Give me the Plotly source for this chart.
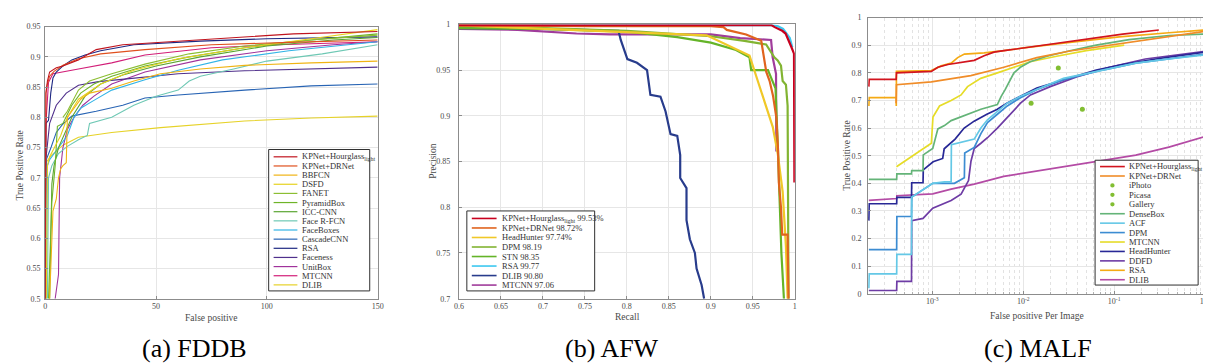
import plotly.graph_objects as go

W, H = 1211, 363
FONT = "Times New Roman, Liberation Serif, DejaVu Serif, serif"
TXT = "#4a4a4a"
GRID = "#e6e6e6"
FRAME = "#8c8c8c"

# ======================= (a) FDDB data =======================
fddb_kph_x = [0, 0.3, 1, 2, 5, 8, 15, 23, 35, 60, 90, 112, 150]
fddb_kph_y = [0.5, 0.84, 0.86, 0.875, 0.882, 0.885, 0.895, 0.912, 0.92, 0.926, 0.933, 0.938, 0.942]
fddb_drn_x = [0, 0.3, 1, 2, 4, 8, 15, 25, 45, 75, 110, 150]
fddb_drn_y = [0.5, 0.84, 0.855, 0.868, 0.876, 0.886, 0.897, 0.905, 0.912, 0.92, 0.924, 0.928]
fddb_bbfcn_x = [2, 3, 3.5, 5, 6, 7, 8, 9.5, 10, 12, 16, 20, 30, 40, 52, 70, 90, 120, 150]
fddb_bbfcn_y = [0.5, 0.62, 0.645, 0.665, 0.70, 0.715, 0.72, 0.725, 0.80, 0.81, 0.83, 0.84, 0.848, 0.86, 0.872, 0.88, 0.886, 0.89, 0.893]
fddb_dsfd_x = [0.5, 1, 2, 4, 7, 10, 15, 25, 40, 60, 90, 120, 150]
fddb_dsfd_y = [0.5, 0.72, 0.735, 0.75, 0.77, 0.80, 0.83, 0.855, 0.878, 0.897, 0.915, 0.93, 0.945]
fddb_fanet_x = [8, 10, 15, 20, 30, 45, 65, 90, 120, 150]
fddb_fanet_y = [0.80, 0.81, 0.845, 0.86, 0.872, 0.888, 0.905, 0.918, 0.928, 0.936]
fddb_pyramid_x = [1.5, 2.5, 3, 4.5, 5.5, 8, 12, 16, 22, 30, 45, 65, 90, 120, 150]
fddb_pyramid_y = [0.5, 0.62, 0.66, 0.72, 0.785, 0.79, 0.82, 0.84, 0.855, 0.868, 0.885, 0.90, 0.915, 0.928, 0.938]
fddb_icc_x = [2, 3, 4, 6, 9, 12, 18, 25, 35, 50, 70, 100, 130, 150]
fddb_icc_y = [0.5, 0.69, 0.72, 0.75, 0.775, 0.80, 0.835, 0.855, 0.87, 0.885, 0.90, 0.918, 0.928, 0.932]
fddb_rfcn_x = [1, 1.5, 3, 6, 10, 15, 19, 20, 30, 40, 50, 60, 65, 70, 85, 100, 125, 150]
fddb_rfcn_y = [0.5, 0.70, 0.72, 0.74, 0.752, 0.763, 0.77, 0.79, 0.80, 0.82, 0.835, 0.845, 0.86, 0.868, 0.88, 0.893, 0.905, 0.92]
fddb_faceboxes_x = [0.5, 1, 2, 5, 10, 13, 16, 22, 30, 45, 60, 80, 110, 150]
fddb_faceboxes_y = [0.5, 0.72, 0.73, 0.745, 0.77, 0.80, 0.815, 0.828, 0.845, 0.862, 0.878, 0.895, 0.91, 0.925]
fddb_cascade_x = [0, 0.5, 2.7, 5, 8, 12, 23, 35, 45, 60, 90, 120, 150]
fddb_cascade_y = [0.5, 0.73, 0.751, 0.775, 0.789, 0.802, 0.81, 0.82, 0.832, 0.837, 0.845, 0.852, 0.855]
fddb_rsa_x = [0, 0.3, 1.5, 2.5, 3.5, 5, 8, 12, 18, 25, 40, 70, 100, 150]
fddb_rsa_y = [0.5, 0.79, 0.795, 0.84, 0.865, 0.875, 0.885, 0.895, 0.903, 0.91, 0.92, 0.926, 0.93, 0.933]
fddb_faceness_x = [0, 2, 5, 9.5, 15, 24, 38, 60, 90, 150]
fddb_faceness_y = [0.72, 0.79, 0.82, 0.84, 0.853, 0.859, 0.864, 0.872, 0.877, 0.883]
fddb_unitbox_x = [4.5, 6, 6.5, 8, 10, 13, 17, 22, 30, 45, 70, 100, 130, 150]
fddb_unitbox_y = [0.5, 0.54, 0.70, 0.75, 0.78, 0.80, 0.82, 0.835, 0.855, 0.875, 0.895, 0.91, 0.92, 0.925]
fddb_mtcnn_x = [0, 0.5, 1.5, 3.5, 15, 30, 45, 75, 105, 150]
fddb_mtcnn_y = [0.72, 0.80, 0.858, 0.872, 0.88, 0.89, 0.903, 0.915, 0.92, 0.925]
fddb_dlib_x = [0, 0.3, 3, 8, 15, 30, 52, 90, 120, 150]
fddb_dlib_y = [0.5, 0.725, 0.738, 0.754, 0.767, 0.775, 0.783, 0.794, 0.799, 0.802]

fddb_names = ["KPNet+Hourglass<sub>light</sub>", "KPNet+DRNet", "BBFCN", "DSFD", "FANET",
              "PyramidBox", "ICC-CNN", "Face R-FCN", "FaceBoxes", "CascadeCNN", "RSA",
              "Faceness", "UnitBox", "MTCNN", "DLIB"]
fddb_series = [(fddb_kph_x, fddb_kph_y), (fddb_drn_x, fddb_drn_y), (fddb_bbfcn_x, fddb_bbfcn_y),
               (fddb_dsfd_x, fddb_dsfd_y), (fddb_fanet_x, fddb_fanet_y), (fddb_pyramid_x, fddb_pyramid_y),
               (fddb_icc_x, fddb_icc_y), (fddb_rfcn_x, fddb_rfcn_y), (fddb_faceboxes_x, fddb_faceboxes_y),
               (fddb_cascade_x, fddb_cascade_y), (fddb_rsa_x, fddb_rsa_y), (fddb_faceness_x, fddb_faceness_y),
               (fddb_unitbox_x, fddb_unitbox_y), (fddb_mtcnn_x, fddb_mtcnn_y), (fddb_dlib_x, fddb_dlib_y)]
fddb_colors = ["#c0141e", "#e0501e", "#f0b414", "#e6d21e", "#8cbe32", "#6eb428", "#5aa532",
               "#6ec8b4", "#32b4e6", "#2864b4", "#1e2882", "#50308c", "#a0329b", "#d21e78", "#e6d228"]
fddb_xticks = [0, 50, 100, 150]
fddb_yticks = [0.5, 0.55, 0.6, 0.65, 0.7, 0.75, 0.8, 0.85, 0.9, 0.95]
fddb_yticktext = ["0.5", "0.55", "0.6", "0.65", "0.7", "0.75", "0.8", "0.85", "0.9", "0.95"]

# ======================= (b) AFW data =======================
afw_kph_x = [0.6, 0.972, 0.976, 0.981, 0.985, 0.989, 0.993, 0.996, 0.999, 0.9995]
afw_kph_y = [0.9993, 0.9993, 0.997, 0.995, 0.993, 0.99, 0.982, 0.975, 0.968, 0.827]
afw_drn_x = [0.6, 0.75, 0.9, 0.915, 0.919, 0.942, 0.96, 0.964, 0.966, 0.97, 0.974, 0.978, 0.98, 0.981, 0.9835, 0.985, 0.9914, 0.9925]
afw_drn_y = [0.999, 0.998, 0.998, 0.997, 0.994, 0.989, 0.982, 0.962, 0.948, 0.938, 0.922, 0.898, 0.863, 0.827, 0.80, 0.77, 0.77, 0.70]
afw_hh_x = [0.6, 0.7, 0.8, 0.895, 0.946, 0.954, 0.9737, 0.9796, 0.9855, 0.9894, 0.9914]
afw_hh_y = [0.999, 0.995, 0.991, 0.988, 0.966, 0.943, 0.888, 0.859, 0.817, 0.757, 0.70]
afw_dpm_x = [0.6, 0.7, 0.8, 0.85, 0.9, 0.94, 0.9658, 0.9756, 0.9796, 0.9835, 0.9855, 0.9894, 0.9914, 0.9925]
afw_dpm_y = [0.998, 0.996, 0.993, 0.99, 0.987, 0.982, 0.978, 0.964, 0.9606, 0.955, 0.938, 0.934, 0.911, 0.70]
afw_stn_x = [0.6, 0.7, 0.8, 0.86, 0.9, 0.93, 0.946, 0.948, 0.968, 0.977, 0.98, 0.984, 0.987]
afw_stn_y = [0.996, 0.995, 0.992, 0.986, 0.98, 0.972, 0.964, 0.95, 0.95, 0.93, 0.86, 0.75, 0.70]
afw_rsa_x = [0.6, 0.972, 0.98, 0.986, 0.99, 0.994, 0.997]
afw_rsa_y = [0.9993, 0.9993, 0.998, 0.995, 0.99, 0.985, 0.975]
afw_dlib_x = [0.6, 0.7, 0.79, 0.7927, 0.8006, 0.812, 0.824, 0.828, 0.84, 0.846, 0.852, 0.86, 0.8635,
              0.8635, 0.871, 0.871, 0.875, 0.881, 0.883, 0.889, 0.892]
afw_dlib_y = [0.996, 0.995, 0.993, 0.983, 0.962, 0.958, 0.95, 0.923, 0.921, 0.905, 0.88, 0.878, 0.857,
              0.832, 0.821, 0.786, 0.765, 0.75, 0.733, 0.715, 0.70]
afw_mtcnn_x = [0.6, 0.67, 0.74, 0.78, 0.86, 0.9, 0.935, 0.962, 0.9717, 0.9736, 0.9776, 0.978]
afw_mtcnn_y = [0.995, 0.994, 0.99, 0.989, 0.989, 0.989, 0.985, 0.983, 0.983, 0.964, 0.946, 0.861]

afw_names = ["KPNet+Hourglass<sub>light</sub> 99.53%", "KPNet+DRNet 98.72%", "HeadHunter 97.74%",
             "DPM 98.19", "STN 98.35", "RSA 99.77", "DLIB 90.80", "MTCNN 97.06"]
afw_series = [(afw_kph_x, afw_kph_y), (afw_drn_x, afw_drn_y), (afw_hh_x, afw_hh_y), (afw_dpm_x, afw_dpm_y),
              (afw_stn_x, afw_stn_y), (afw_rsa_x, afw_rsa_y), (afw_dlib_x, afw_dlib_y), (afw_mtcnn_x, afw_mtcnn_y)]
afw_colors = ["#c8001e", "#e0641e", "#f0c828", "#82b432", "#64b428", "#3cc8f0", "#283c8c", "#a03c9b"]
afw_xticks = [0.6, 0.65, 0.7, 0.75, 0.8, 0.85, 0.9, 0.95, 1.0]
afw_xticktext = ["0.6", "0.65", "0.7", "0.75", "0.8", "0.85", "0.9", "0.95", "1"]
afw_yticks = [0.7, 0.75, 0.8, 0.85, 0.9, 0.95, 1.0]
afw_yticktext = ["0.7", "0.75", "0.8", "0.85", "0.9", "0.95", "1"]

# ======================= (c) MALF data =======================
malf_kph_x = [2.0e-4, 2.02e-4, 4.0e-4, 4.03e-4, 9.75e-4, 1.15e-3, 1.48e-3, 1.9e-3, 2.89e-3, 3.71e-3, 4.76e-3,
              6.12e-3, 0.0101, 0.0167, 0.0275, 0.0494, 0.124, 0.31]
malf_kph_y = [0.75, 0.776, 0.776, 0.80, 0.805, 0.82, 0.83, 0.835, 0.845, 0.862, 0.875, 0.88, 0.89, 0.90,
              0.91, 0.92, 0.94, 0.955]
malf_drn_x = [4.0e-4, 4.03e-4, 9.75e-4, 2.65e-3, 6.12e-3, 9.29e-3, 0.0141, 0.0326, 0.075, 0.173, 0.40, 1.0]
malf_drn_y = [0.69, 0.757, 0.767, 0.79, 0.82, 0.837, 0.855, 0.879, 0.896, 0.914, 0.932, 0.95]
malf_iphoto_x = [0.0122]
malf_iphoto_y = [0.69]
malf_picasa_x = [0.0243]
malf_picasa_y = [0.817]
malf_gallery_x = [0.0447]
malf_gallery_y = [0.668]
malf_densebox_x = [2.0e-4, 4.05e-4, 4.07e-4, 5.9e-4, 5.93e-4, 7.9e-4, 7.95e-4, 1.01e-3, 1.15e-3, 1.36e-3,
                   1.61e-3, 2.25e-3, 3.42e-3, 5.19e-3, 5.7e-3, 6.3e-3, 7.0e-3, 7.9e-3, 9.29e-3, 0.0119,
                   0.0182, 0.0326, 0.0635, 0.146, 0.40, 1.0]
malf_densebox_y = [0.414, 0.414, 0.434, 0.434, 0.446, 0.446, 0.503, 0.526, 0.597, 0.609, 0.627, 0.644,
                   0.668, 0.685, 0.714, 0.738, 0.767, 0.80, 0.82, 0.84, 0.86, 0.88, 0.90, 0.92, 0.935, 0.94]
malf_acf_x = [2.0e-4, 2.02e-4, 4.05e-4, 4.07e-4, 5.9e-4, 5.93e-4, 1.01e-3, 1.36e-3, 1.61e-3, 1.62e-3, 2.89e-3,
              3.42e-3, 4.04e-3, 5.19e-3, 6.67e-3, 9.33e-3, 0.0142, 0.0277, 0.075, 0.173, 0.40, 1.0]
malf_acf_y = [0.02, 0.072, 0.072, 0.143, 0.143, 0.35, 0.40, 0.405, 0.405, 0.54, 0.56, 0.60, 0.63, 0.66,
              0.69, 0.715, 0.74, 0.78, 0.81, 0.835, 0.85, 0.865]
malf_dpm_x = [2.0e-4, 4.05e-4, 4.07e-4, 5.9e-4, 5.93e-4, 1.01e-3, 1.75e-3, 2.25e-3, 2.27e-3, 2.89e-3, 3.42e-3,
              4.04e-3, 5.19e-3, 6.67e-3, 9.33e-3, 0.0142, 0.0277, 0.075, 0.173, 0.40, 1.0]
malf_dpm_y = [0.16, 0.16, 0.28, 0.28, 0.35, 0.40, 0.40, 0.42, 0.51, 0.53, 0.58, 0.62, 0.65, 0.68, 0.71,
              0.74, 0.775, 0.81, 0.835, 0.852, 0.868]
malf_mtcnn_x = [4.03e-4, 9.75e-4, 1.016e-3, 1.2e-3, 1.61e-3, 2.07e-3, 2.44e-3, 3.41e-3, 5.19e-3, 7.87e-3,
                0.0119, 0.0233, 0.0494, 0.129]
malf_mtcnn_y = [0.46, 0.545, 0.64, 0.68, 0.70, 0.72, 0.75, 0.78, 0.80, 0.82, 0.84, 0.86, 0.88, 0.90]
malf_hh_x = [2.0e-4, 2.02e-4, 4.05e-4, 4.07e-4, 5.9e-4, 5.93e-4, 7.9e-4, 7.95e-4, 1.02e-3, 1.3e-3, 1.35e-3,
             1.78e-3, 2.24e-3, 2.88e-3, 3.98e-3, 5.13e-3, 6.6e-3, 9.3e-3, 0.0141, 0.0275, 0.0635, 0.124,
             0.286, 1.0]
malf_hh_y = [0.265, 0.326, 0.326, 0.349, 0.349, 0.402, 0.402, 0.449, 0.478, 0.49, 0.525, 0.56, 0.60,
             0.625, 0.65, 0.667, 0.69, 0.716, 0.745, 0.774, 0.81, 0.83, 0.85, 0.875]
malf_ddfd_x = [2.0e-4, 4.05e-4, 4.07e-4, 5.9e-4, 5.93e-4, 7.9e-4, 1.01e-3, 1.61e-3, 2.07e-3, 2.5e-3, 2.66e-3,
               2.89e-3, 3.42e-3, 4.04e-3, 5.19e-3, 6.67e-3, 9.33e-3, 0.012, 0.0198, 0.0385, 0.0887, 0.22, 1.0]
malf_ddfd_y = [0.012, 0.012, 0.045, 0.045, 0.265, 0.273, 0.31, 0.338, 0.361, 0.41, 0.48, 0.526, 0.545,
               0.565, 0.60, 0.64, 0.69, 0.72, 0.75, 0.785, 0.82, 0.85, 0.878]
malf_rsa_x = [2.0e-4, 2.02e-4, 4.0e-4, 4.01e-4, 4.03e-4, 9.75e-4, 1.25e-3, 1.61e-3, 1.9e-3, 2.25e-3, 3.71e-3,
              6.12e-3, 0.0101, 0.0326, 0.114, 0.40, 1.0]
malf_rsa_y = [0.68, 0.71, 0.71, 0.68, 0.805, 0.808, 0.825, 0.835, 0.855, 0.868, 0.872, 0.88, 0.89, 0.91,
              0.93, 0.945, 0.955]
malf_dlib_x = [2.0e-4, 4.05e-4, 4.07e-4, 1.01e-3, 1.61e-3, 2.89e-3, 6.1e-3, 0.0233, 0.0635, 0.173, 0.40, 1.0]
malf_dlib_y = [0.338, 0.345, 0.355, 0.362, 0.379, 0.397, 0.425, 0.455, 0.478, 0.502, 0.531, 0.569]

malf_names = ["KPNet+Hourglass<sub>light</sub>", "KPNet+DRNet", "iPhoto", "Picasa", "Gallery", "DenseBox",
              "ACF", "DPM", "MTCNN", "HeadHunter", "DDFD", "RSA", "DLIB"]
malf_series = [(malf_kph_x, malf_kph_y), (malf_drn_x, malf_drn_y), (malf_iphoto_x, malf_iphoto_y),
               (malf_picasa_x, malf_picasa_y), (malf_gallery_x, malf_gallery_y),
               (malf_densebox_x, malf_densebox_y), (malf_acf_x, malf_acf_y), (malf_dpm_x, malf_dpm_y),
               (malf_mtcnn_x, malf_mtcnn_y), (malf_hh_x, malf_hh_y), (malf_ddfd_x, malf_ddfd_y),
               (malf_rsa_x, malf_rsa_y), (malf_dlib_x, malf_dlib_y)]
malf_kinds = ["line", "line", "dot", "dot", "dot", "line", "line", "line", "line", "line", "line", "line", "line"]
malf_colors = ["#d2141e", "#f08c28", "#82be32", "#82be32", "#82be32", "#64b478", "#64c8e6", "#3c8cd2",
               "#e6dc28", "#282896", "#6e3ca5", "#f5aa14", "#b44ba5"]
malf_xticks = [1e-3, 1e-2, 1e-1, 1.0]
malf_xticktext = ["10<sup>-3</sup>", "10<sup>-2</sup>", "10<sup>-1</sup>", "10<sup>0</sup>"]
malf_yticks = [0, 0.1, 0.2, 0.3, 0.4, 0.5, 0.6, 0.7, 0.8, 0.9, 1.0]
malf_yticktext = ["0", "0.1", "0.2", "0.3", "0.4", "0.5", "0.6", "0.7", "0.8", "0.9", "1"]

captions = ["(a) FDDB", "(b) AFW", "(c) MALF"]

# ======================= layout geometry (pixels) =======================
PLOT_A = (32.5, 15, 368, 294)
PLOT_B = (450, 12.7, 789, 294)
PLOT_C = (863, 5.7, 1203, 289)
MALF_LOG_RANGE = [-3.706, 0]


def dom_x(b):
    return [b[0] / W, b[2] / W]


def dom_y(b):
    return [1 - b[3] / H, 1 - b[1] / H]


def px(x):
    return x / W


def py(y):
    return 1 - y / H


# minor log grid positions (2..9 x each decade inside the range)
malf_minor = []
for e in range(-4, 0):
    for m in range(2, 10):
        v = m * 10.0 ** e
        if 10 ** MALF_LOG_RANGE[0] <= v <= 10 ** MALF_LOG_RANGE[1]:
            malf_minor.append(v)

fig = go.Figure()

for i in reversed(range(len(fddb_names))):
    xs, ys = fddb_series[i]
    fig.add_trace(go.Scatter(x=xs, y=ys, mode="lines", xaxis="x", yaxis="y",
                             line=dict(color=fddb_colors[i], width=1.1), showlegend=False,
                             name=fddb_names[i]))
for i in reversed(range(len(afw_names))):
    xs, ys = afw_series[i]
    fig.add_trace(go.Scatter(x=xs, y=ys, mode="lines", xaxis="x2", yaxis="y2",
                             line=dict(color=afw_colors[i], width=2.2), showlegend=False,
                             name=afw_names[i]))
for i in reversed(range(len(malf_names))):
    xs, ys = malf_series[i]
    if malf_kinds[i] == "dot":
        fig.add_trace(go.Scatter(x=xs, y=ys, mode="markers", xaxis="x3", yaxis="y3",
                                 marker=dict(color=malf_colors[i], size=5), showlegend=False,
                                 name=malf_names[i]))
    else:
        fig.add_trace(go.Scatter(x=xs, y=ys, mode="lines", xaxis="x3", yaxis="y3",
                                 line=dict(color=malf_colors[i], width=1.7), showlegend=False,
                                 name=malf_names[i]))

tickfont = dict(family=FONT, size=8, color=TXT)
common = dict(showgrid=True, gridcolor=GRID, gridwidth=1, showline=True, linecolor=FRAME, linewidth=1,
              mirror=True, ticks="inside", ticklen=3, tickcolor=FRAME, tickfont=tickfont, zeroline=False)

fig.update_layout(
    width=W, height=H, margin=dict(l=0, r=0, t=0, b=0),
    paper_bgcolor="white", plot_bgcolor="white", showlegend=False,
    font=dict(family=FONT),
    xaxis=dict(domain=dom_x(PLOT_A), anchor="y", range=[0, 150], tickmode="array", tickvals=fddb_xticks,
               **common),
    yaxis=dict(domain=dom_y(PLOT_A), anchor="x", range=[0.5, 0.95], tickmode="array", tickvals=fddb_yticks,
               ticktext=fddb_yticktext, ticklabelstandoff=2, **common),
    xaxis2=dict(domain=dom_x(PLOT_B), anchor="y2", range=[0.6, 1.0], tickmode="array", tickvals=afw_xticks,
                ticktext=afw_xticktext, **common),
    yaxis2=dict(domain=dom_y(PLOT_B), anchor="x2", range=[0.7, 1.0], tickmode="array", tickvals=afw_yticks,
                ticktext=afw_yticktext, ticklabelstandoff=6, **common),
    xaxis3=dict(domain=dom_x(PLOT_C), anchor="y3", type="log", range=MALF_LOG_RANGE, tickmode="array",
                tickvals=malf_xticks, ticktext=malf_xticktext,
                minor=dict(tickmode="array", tickvals=malf_minor, showgrid=True, griddash="dot",
                           gridcolor="#e2e2e2", gridwidth=1, ticks="inside", ticklen=2, tickcolor="#b0b0b0"),
                **common),
    yaxis3=dict(domain=dom_y(PLOT_C), anchor="x3", range=[0, 1.0], tickmode="array", tickvals=malf_yticks,
                ticktext=malf_yticktext, ticklabelstandoff=4, **common),
)

titlefont = dict(family=FONT, size=9.5, color=TXT)
ann = []
ann.append(dict(text="False positive", x=px(200), y=py(314), xref="paper", yref="paper", showarrow=False,
                font=titlefont, xanchor="center", yanchor="middle"))
ann.append(dict(text="True Positive Rate", x=px(7.5), y=py(157), xref="paper", yref="paper", showarrow=False,
                font=titlefont, textangle=-90, xanchor="center", yanchor="middle"))
ann.append(dict(text="Recall", x=px(620), y=py(313), xref="paper", yref="paper", showarrow=False,
                font=titlefont, xanchor="center", yanchor="middle"))
ann.append(dict(text="Precision", x=px(424.5), y=py(153), xref="paper", yref="paper", showarrow=False,
                font=titlefont, textangle=-90, xanchor="center", yanchor="middle"))
ann.append(dict(text="False positive Per Image", x=px(1033), y=py(312), xref="paper", yref="paper",
                showarrow=False, font=titlefont, xanchor="center", yanchor="middle"))
ann.append(dict(text="True Positive Rate", x=px(842), y=py(147), xref="paper", yref="paper", showarrow=False,
                font=titlefont, textangle=-90, xanchor="center", yanchor="middle"))
for cap, cx in zip(captions, [183, 604, 1034]):
    ann.append(dict(text=cap, x=px(cx), y=py(345), xref="paper", yref="paper", showarrow=False,
                    font=dict(family=FONT, size=26, color="black"), xanchor="center", yanchor="middle"))

shapes = []
legfont = dict(family=FONT, size=8.5, color="#333333")


def add_legend(box, names, colors, kinds, line_x0, line_x1, text_x, row0, pitch, lw):
    shapes.append(dict(type="rect", xref="paper", yref="paper", x0=px(box[0]), x1=px(box[2]),
                       y0=py(box[3]), y1=py(box[1]), line=dict(color="#303030", width=1),
                       fillcolor="white", layer="above"))
    for k, (nm, col, kd) in enumerate(zip(names, colors, kinds)):
        yy = row0 + k * pitch
        if kd == "dot":
            cx = (line_x0 + line_x1) / 2
            shapes.append(dict(type="circle", xref="paper", yref="paper", x0=px(cx - 2.2), x1=px(cx + 2.2),
                               y0=py(yy + 2.2), y1=py(yy - 2.2), fillcolor=col, line=dict(color=col, width=0),
                               layer="above"))
        else:
            shapes.append(dict(type="line", xref="paper", yref="paper", x0=px(line_x0), x1=px(line_x1),
                               y0=py(yy), y1=py(yy), line=dict(color=col, width=lw), layer="above"))
        ann.append(dict(text=nm, x=px(text_x), y=py(yy), xref="paper", yref="paper", showarrow=False,
                        font=legfont, xanchor="left", yanchor="middle"))


add_legend((258, 141, 360, 286), fddb_names, fddb_colors, ["line"] * len(fddb_names),
           263, 287, 290, 148.5, 9.38, 1.2)
add_legend((458, 204, 587, 286), afw_names, afw_colors, ["line"] * len(afw_names),
           463, 488, 491, 211.7, 9.76, 1.6)
add_legend((1092, 152, 1196, 280), malf_names, malf_colors, malf_kinds,
           1097, 1122, 1124.5, 158.5, 9.67, 1.6)

fig.update_layout(annotations=ann, shapes=shapes)
fig.write_html("out.html")
